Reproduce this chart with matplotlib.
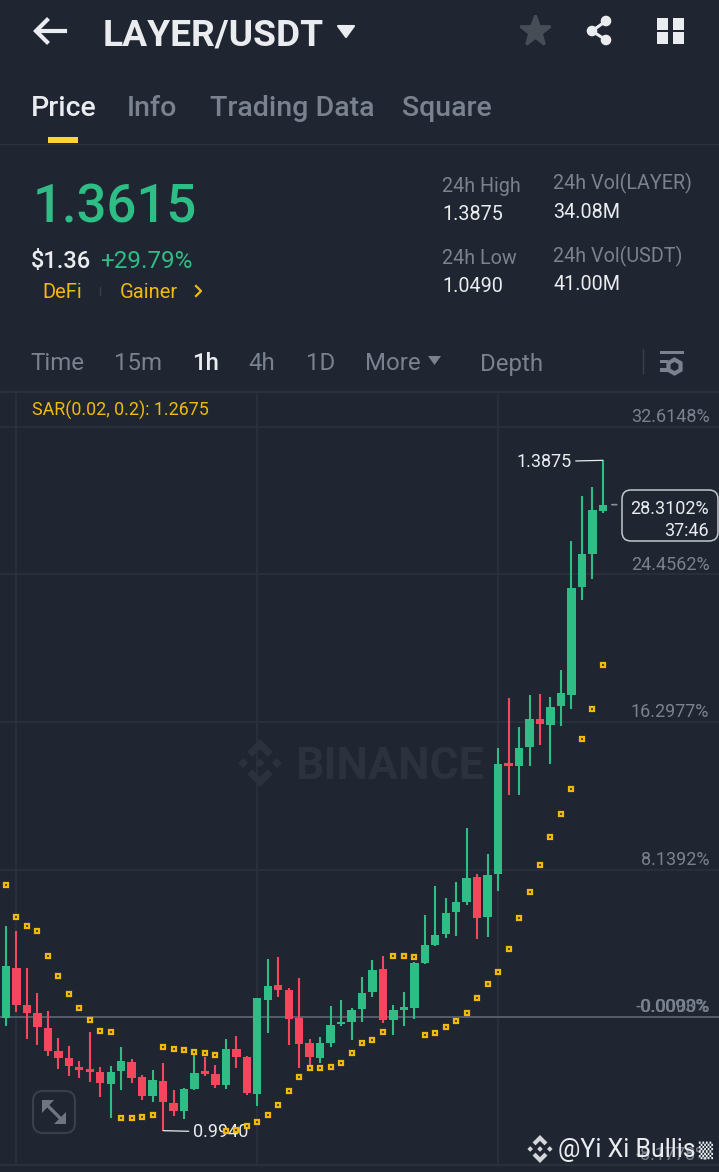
import matplotlib
matplotlib.use('Agg')
import matplotlib.pyplot as plt
from matplotlib.patches import FancyBboxPatch, Polygon, Rectangle, Circle
import numpy as np

W, H = 719, 1172
BG = '#1f2631'
GRID = '#2a313c'
GREEN = '#2ebd85'
RED = '#f6465d'
YELLOW = '#f0b90b'
WHITE = '#eaecef'
GRAY = '#7a8290'

# percent change against the chart baseline, hourly candles
opens = [-0.06, 2.70, 0.66, 0.22, -0.61, -1.87, -2.26, -2.76, -2.92, -3.03,
         -3.69, -2.98, -2.48, -3.31, -4.35, -3.53, -4.74, -5.18, -3.97, -3.03,
         -3.14, -3.75, -1.76, -2.21, -4.24, 0.94, 1.76, 1.49, -0.06, -1.43,
         -2.26, -1.43, -0.39, -0.28, 0.44, 1.38, 2.65, -0.17, 0.39, 0.50,
         2.98, 3.97, 4.58, 5.79, 6.34, 7.72, 5.51, 7.88, 14.00, 13.89,
         14.94, 16.48, 16.15, 17.20, 17.81, 23.76, 25.58, 27.95]
closes = [2.81, 0.66, 0.22, -0.55, -1.87, -2.26, -2.70, -2.92, -3.03, -3.64,
          -3.03, -2.43, -3.36, -4.35, -3.47, -4.69, -5.18, -3.97, -3.09, -3.14,
          -3.75, -1.76, -2.21, -4.19, 1.05, 1.71, 1.49, -0.11, -1.49, -2.21,
          -1.43, -0.44, -0.28, 0.39, 1.32, 2.59, -0.17, 0.39, 0.50, 2.98,
          3.97, 4.52, 5.73, 6.34, 7.66, 5.46, 7.83, 14.00, 13.89, 14.88,
          16.48, 16.21, 17.14, 17.92, 23.70, 25.58, 28.00, 28.31]
highs = [5.02, 4.74, 2.70, 1.32, 0.33, -1.16, -1.60, -2.43, -0.83, -2.76,
         -2.70, -1.65, -2.32, -3.20, -2.92, -2.54, -4.02, -3.91, -2.09, -2.21,
         -2.65, -1.21, -1.05, -2.15, 1.05, 3.20, 3.31, 1.60, 2.15, -1.21,
         -1.10, 0.61, 0.94, 0.50, 2.21, 3.14, 3.36, 0.66, 1.38, 3.03,
         5.62, 7.22, 6.56, 7.44, 10.47, 7.88, 8.99, 14.88, 17.64, 16.04,
         17.81, 17.86, 17.70, 19.18, 26.30, 28.78, 29.27, 30.76]
lows = [-0.50, 0.28, -1.21, -1.54, -2.15, -2.87, -3.25, -3.36, -3.58, -4.41,
        -5.57, -4.02, -3.64, -4.58, -4.69, -6.28, -5.46, -5.62, -4.02, -3.25,
        -3.91, -3.97, -2.81, -4.30, -4.91, -0.88, 1.10, -1.54, -2.81, -2.70,
        -2.54, -1.65, -0.50, -1.27, -0.28, 1.10, -0.33, -0.99, -0.50, -0.11,
        2.92, 3.91, 4.35, 4.47, 6.17, 4.30, 4.41, 6.95, 12.24, 12.24,
        13.89, 15.05, 14.00, 16.10, 17.03, 23.04, 24.20, 27.84]
sar = [7.28, 5.51, 5.02, 4.74, 3.36, 2.26, 1.27, 0.50, -0.17, -0.77,
       -0.83, -5.57, -5.57, -5.51, -5.40, -1.65, -1.76, -1.82, -1.93, -1.98,
       -2.09, -6.28, -6.23, -6.01, -5.79, -5.40, -4.85, -4.08, -3.31, -2.81,
       -2.81, -2.76, -2.54, -1.98, -1.43, -1.27, -0.83, 3.36, 3.36, 3.31,
       -0.99, -0.88, -0.55, -0.22, 0.22, 1.05, 1.82, 2.48, 3.75, 5.46,
       6.89, 8.38, 9.92, 11.19, 12.62, 15.38, 17.03, 19.46]

grid_values = [32.6148, 24.4562, 16.2977, 8.1392, 0.0, -8.1778]
grid_labels = ['32.6148%', '24.4562%', '16.2977%', '8.1392%', '0.0000%', '-8.1778%']
top_tabs = [('Price', 31), ('Info', 127), ('Trading Data', 210), ('Square', 402)]
intervals = [('Time', 30), ('15m', 114), ('1h', 192), ('4h', 248), ('1D', 306),
             ('More', 365), ('Depth', 480)]
stats = [('24h High', '1.3875', 442, 184, 212), ('24h Low', '1.0490', 442, 256, 284),
         ('24h Vol(LAYER)', '34.08M', 553, 181, 210), ('24h Vol(USDT)', '41.00M', 553, 254, 282)]

plt.rcParams['font.family'] = ['Roboto', 'DejaVu Sans']

fig = plt.figure(figsize=(W / 100, H / 100), dpi=100, facecolor=BG)

# chart panel runs from y=393 to y=1165 in pixels
ax = fig.add_axes([0, (H - 1165) / H, 1, (1165 - 393) / H], facecolor=BG)
step = 10.47
ax.set_xlim(-6 / step, (W - 6) / step)
ax.set_ylim(-8.07, 34.48)
for s in ax.spines.values():
    s.set_visible(False)
ax.set_xticks([1, 24, 47])
ax.set_yticks(grid_values)
ax.tick_params(length=0, labelbottom=False, labelleft=False)
ax.grid(True, color=GRID, lw=1.2, zorder=0)
ax.set_axisbelow(True)
ax.axhline(0, color='#5e6673', lw=1.2, zorder=1)

# watermark, in panel coordinates
ax.text(0.411, 0.5155, 'BINANCE', transform=ax.transAxes, color='#2b323d', fontsize=32,
        fontweight='bold', va='center', ha='left', zorder=1)

x = np.arange(len(opens))
o = np.array(opens)
c = np.array(closes)
colors = [GREEN if b >= a else RED for a, b in zip(opens, closes)]
ax.vlines(x, lows, highs, colors=colors, lw=1.5, zorder=3)
ax.bar(x, np.maximum(np.abs(c - o), 0.14), bottom=np.minimum(o, c), width=0.8,
       color=colors, zorder=3)

# high / low notes sit under the SAR dots
ax.annotate('1.3875', xy=(x[np.argmax(highs)], max(highs)), xytext=(-22.5, -1),
            textcoords='offset points', color=WHITE, fontsize=13, ha='right', va='center',
            arrowprops=dict(arrowstyle='-', color=WHITE, lw=0.9, shrinkA=1, shrinkB=0), zorder=4)
ax.annotate('0.9940', xy=(x[np.argmin(lows)], min(lows)), xytext=(21.5, -1),
            textcoords='offset points', color=WHITE, fontsize=13, ha='left', va='center',
            arrowprops=dict(arrowstyle='-', color=WHITE, lw=0.9, shrinkA=1, shrinkB=0), zorder=4)

ax.plot(x, sar, ls='none', marker='s', ms=3.1, mfc='#2f2a18', mec=YELLOW, mew=1.6, zorder=5)

for v, lab in zip(grid_values, grid_labels):
    ax.annotate(lab, xy=(1, v), xycoords=('axes fraction', 'data'), xytext=(-7, 7),
                textcoords='offset points', color=GRAY, fontsize=13, ha='right', va='center',
                zorder=2)
ax.annotate('-0.0093%', xy=(1, 0), xycoords=('axes fraction', 'data'), xytext=(-7, 7),
            textcoords='offset points', color=GRAY, fontsize=13, ha='right', va='center', zorder=2)

# last price tag
ax.annotate('', xy=(x[-1] + 0.4, closes[-1]), xytext=(x[-1] + 1.6, closes[-1]),
            arrowprops=dict(arrowstyle='-', color='#8a909a', lw=1.2, ls=(0, (3, 2))))

# everything outside the candles is drawn in pixel coordinates
ui = fig.add_axes([0, 0, 1, 1], facecolor='none')
ui.set_xlim(0, W)
ui.set_ylim(H, 0)
ui.axis('off')


def label(px, py, s, color=WHITE, size=14, weight='normal', ha='left', **kw):
    ui.text(px, py + 2, s, color=color, fontsize=size, fontweight=weight, ha=ha, va='center', **kw)


def logo(cx, cy, r, color):
    shapes = [[(0, -1), (.53, -.47), (.32, -.26), (0, -.58), (-.32, -.26), (-.53, -.47)],
              [(0, 1), (.53, .47), (.32, .26), (0, .58), (-.32, .26), (-.53, .47)],
              [(0, -.2), (.2, 0), (0, .2), (-.2, 0)],
              [(-.7, -.2), (-.5, 0), (-.7, .2), (-.9, 0)],
              [(.7, -.2), (.9, 0), (.7, .2), (.5, 0)]]
    for s in shapes:
        ui.add_patch(Polygon([(cx + a * r, cy + b * r) for a, b in s], color=color, lw=0))


ui.add_patch(FancyBboxPatch((622, 490), 96, 51, boxstyle='round,pad=0,rounding_size=9',
                            fc=BG, ec='#c4c7cc', lw=1.1))
label(709, 507, '28.3102%', size=13, ha='right')
label(709, 529, '37:46', size=13, ha='right')

# header
ui.plot([65, 37], [31, 31], color=WHITE, lw=3)
ui.plot([47, 36, 47], [20, 31, 42], color=WHITE, lw=3, solid_joinstyle='miter')
label(103, 33, 'LAYER/USDT', size=26.7, weight='bold')
ui.add_patch(Polygon([(338, 26), (354, 26), (346, 37)], color=WHITE, lw=1.5, joinstyle='round'))
ui.plot([535], [31], marker='*', ms=23, color='#474d57', mec='#474d57', mew=2)
ui.plot([606, 592, 606], [21, 31, 40], color=WHITE, lw=2.2)
for px, py in [(606, 21), (592, 31), (606, 40)]:
    ui.add_patch(Circle((px, py), 5.3, color=WHITE, lw=0))
for px in (657, 673):
    for py in (18, 32):
        ui.add_patch(Rectangle((px, py), 11, 12, color=WHITE, lw=0))

for i, (s, px) in enumerate(top_tabs):
    label(px, 107, s, color=WHITE if i == 0 else GRAY, size=20.5, weight='medium')
ui.add_patch(Rectangle((48, 137), 30, 6, color='#fcd535', lw=0))
ui.plot([0, W], [143.5, 143.5], color=GRID, lw=1)

# price block
label(33, 206, '1.3615', color=GREEN, size=38, weight='medium')
label(31, 260, '$1.36', size=17, weight='medium')
label(100, 260, '+29.79%', color=GREEN, size=17.5)
label(42, 291, 'DeFi', color=YELLOW, size=14.5)
ui.plot([100, 100], [287, 295], color='#3a404b', lw=1)
label(120, 291, 'Gainer', color=YELLOW, size=14.5)
ui.plot([196, 201, 196], [286, 291, 296], color=YELLOW, lw=1.6)

for name, val, px, y1, y2 in stats:
    label(px, y1, name, color=GRAY, size=14.2)
    label(px, y2, val, size=14.2)

# interval row
for s, px in intervals:
    label(px, 362, s, color=WHITE if s == '1h' else GRAY, size=17.3, weight='medium' if s == '1h' else 'normal')
ui.add_patch(Polygon([(428, 356), (441, 356), (434.5, 365)], color=GRAY, lw=0))
ui.plot([643, 643], [349, 373], color='#3a404b', lw=1)
ui.add_patch(Rectangle((660, 351), 24, 3, color=GRAY, lw=0))
ui.add_patch(Rectangle((660, 360), 8, 3, color=GRAY, lw=0))
ui.add_patch(Rectangle((660, 368), 8, 4, color=GRAY, lw=0))
ui.plot([674], [366], marker='h', ms=10, mfc=BG, mec=GRAY, mew=3)
ui.plot([0, W], [392, 392], color=GRID, lw=1.6)
ui.plot([0, W], [1165, 1165], color=GRID, lw=1.6)
label(32, 408, 'SAR(0.02, 0.2): 1.2675', color=YELLOW, size=12.9)

# watermark logo and expand button
logo(260, 763, 24, '#2b323d')
ui.add_patch(FancyBboxPatch((33, 1091), 42, 42, boxstyle='round,pad=0,rounding_size=10',
                            fc='none', ec='#3a404b', lw=1.5))
ui.plot([47, 61], [1105, 1119], color='#6f7682', lw=2.4)
ui.add_patch(Polygon([(42, 1100), (54, 1100), (42, 1113)], color='#6f7682', lw=0))
ui.add_patch(Polygon([(66, 1124), (66, 1112), (54, 1124)], color='#6f7682', lw=0))

# repost credit
logo(540, 1149, 14, '#d4d6d9')
label(558, 1148, '@Yi Xi Bullis', size=18)
label(698, 1148, '▒', size=13, family=['DejaVu Sans'])

fig.savefig('out.png', dpi=100, facecolor=BG)
